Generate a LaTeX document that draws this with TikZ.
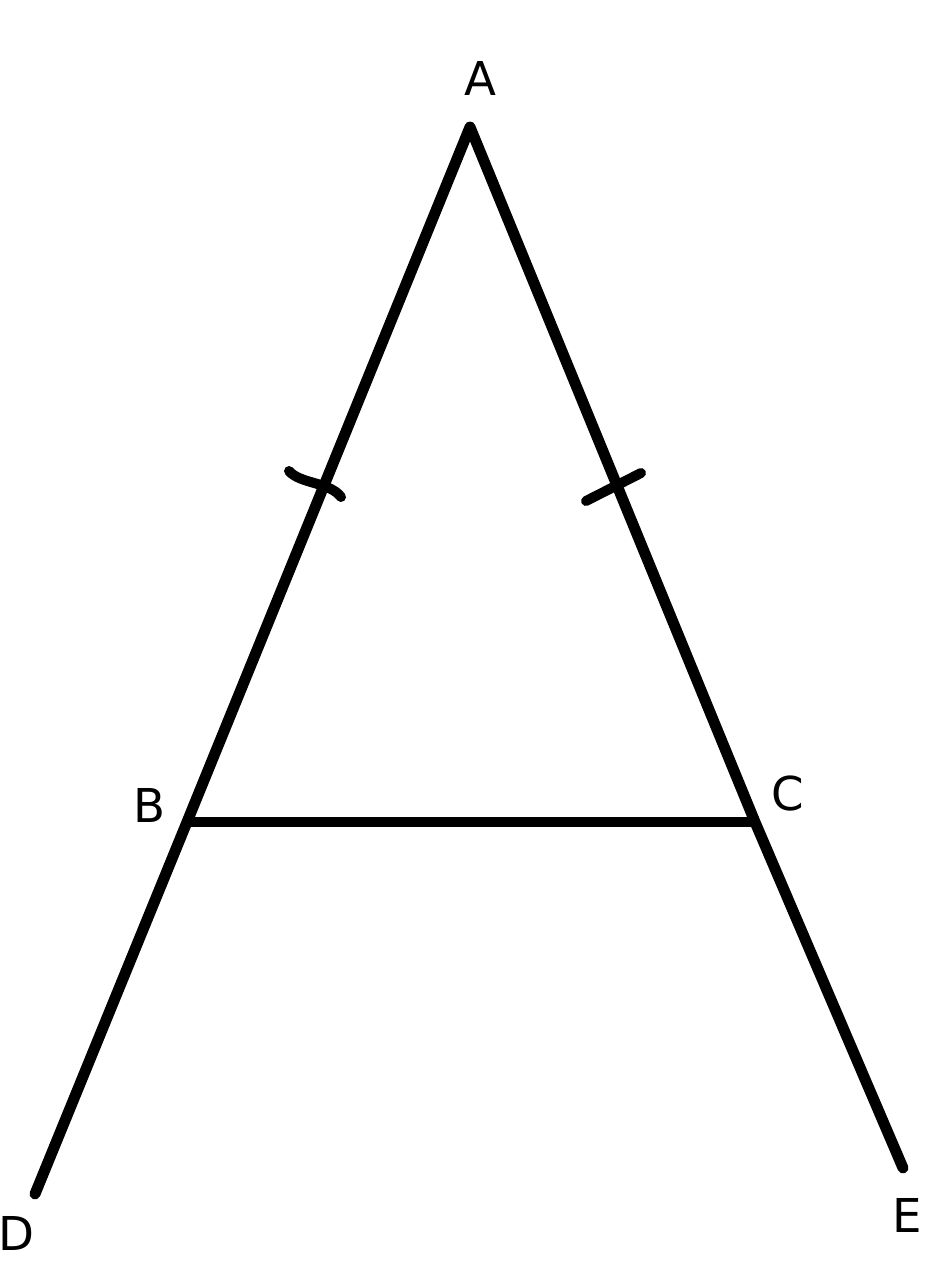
\documentclass[tikz,border=0pt]{standalone}
\usepackage{fontspec}
\setmainfont{DejaVu Sans}
\begin{document}
\begin{tikzpicture}[x=0.75pt,y=-0.75pt,
  seg/.style={line width=8.2pt,line cap=round,line join=round},
  tick/.style={line width=7.5pt,line cap=round},
  lbl/.style={inner sep=0pt,font=\fontsize{35}{38}\selectfont}]
\useasboundingbox[fill=white] (0,0) rectangle (942,1280);
\coordinate (A) at (470,127);
\coordinate (B) at (187,822);
\coordinate (C) at (755,822);
\coordinate (D) at (35,1194);
\coordinate (E) at (903,1168);
\draw[seg] (D) -- (B) -- (A) -- (C) -- (E);
\draw[seg,line width=7.4pt,line cap=butt] (B) -- (C);
\coordinate (t1a) at (289,471);
\coordinate (t1b) at (341,497);
\coordinate (t2a) at (586,501);
\coordinate (t2b) at (641,473);
\draw[tick] (t1a) .. controls (300,484) and (330,482) .. (t1b);
\draw[tick] (t2a) -- (t2b);
\node[lbl] (la) at (480,78) {A};
\node[lbl] (lb) at (150,805) {B};
\node[lbl] (lc) at (788,794) {C};
\node[lbl] (ld) at (16,1233) {D};
\node[lbl] (le) at (907,1215) {E};
\end{tikzpicture}
\end{document}
